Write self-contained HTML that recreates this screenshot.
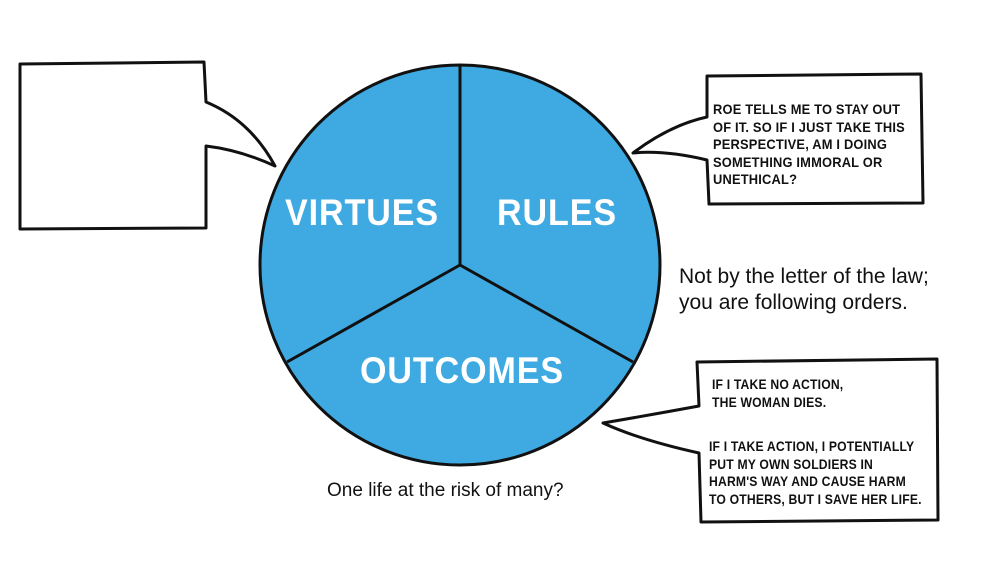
<!DOCTYPE html>
<html><head><meta charset="utf-8"><style>
html,body{margin:0;padding:0;background:#fff;}
body{width:1000px;height:562px;position:relative;overflow:hidden;font-family:"Liberation Sans",sans-serif;}
.t{position:absolute;color:#111;white-space:nowrap;}
.cap{font-size:14px;line-height:17.5px;letter-spacing:0.2px;transform:scaleX(0.92);transform-origin:left top;}
.hand{font-size:21px;line-height:26px;}
.lab{position:absolute;color:#fff;font-size:37px;font-weight:bold;letter-spacing:1px;transform:scaleX(0.92);transform-origin:left top;}
</style></head><body>
<svg width="1000" height="562" style="position:absolute;left:0;top:0">
 <circle cx="460" cy="265" r="200" fill="#3fa9e2" stroke="#111" stroke-width="3"/>
 <line x1="460" y1="65" x2="460" y2="265" stroke="#111" stroke-width="3"/>
 <line x1="460" y1="265" x2="287" y2="362" stroke="#111" stroke-width="3"/>
 <line x1="460" y1="265" x2="633" y2="362" stroke="#111" stroke-width="3"/>
 <path d="M20 64 L204 62 L206 102 Q250 120 275 166 Q240 150 206 146 L206 228 L20 229 Z" fill="#fff" stroke="#111" stroke-width="3" stroke-linejoin="round"/>
 <path d="M707 76 L921 74 L923 203 L709 204 L707 160 Q665 150 633 153 Q670 125 707 117 Z" fill="#fff" stroke="#111" stroke-width="3" stroke-linejoin="round"/>
 <path d="M697 362 L937 359 L938 520 L701 522 L699 453 Q640 440 603 423 Q650 415 699 406 Z" fill="#fff" stroke="#111" stroke-width="3" stroke-linejoin="round"/>
</svg>
<div class="lab" style="left:285px;top:192px;">VIRTUES</div>
<div class="lab" style="left:497px;top:192px;">RULES</div>
<div class="lab" style="left:360px;top:350px;">OUTCOMES</div>
<div class="t cap" style="left:713px;top:101px;font-weight:bold;">ROE TELLS ME TO STAY OUT<br>OF IT. SO IF I JUST TAKE THIS<br>PERSPECTIVE, AM I DOING<br>SOMETHING IMMORAL OR<br>UNETHICAL?</div>
<div class="t cap" style="left:712px;top:376px;font-weight:bold;transform:scaleX(0.87);">IF I TAKE NO ACTION,<br>THE WOMAN DIES.</div>
<div class="t cap" style="left:709px;top:438px;font-weight:bold;transform:scaleX(0.87);">IF I TAKE ACTION, I POTENTIALLY<br>PUT MY OWN SOLDIERS IN<br>HARM'S WAY AND CAUSE HARM<br>TO OTHERS, BUT I SAVE HER LIFE.</div>
<div class="t hand" style="left:679px;top:264px;">Not by the letter of the law;<br>you are following orders.</div>
<div class="t" style="left:327px;top:480px;font-size:19px;">One life at the risk of many?</div>
</body></html>
